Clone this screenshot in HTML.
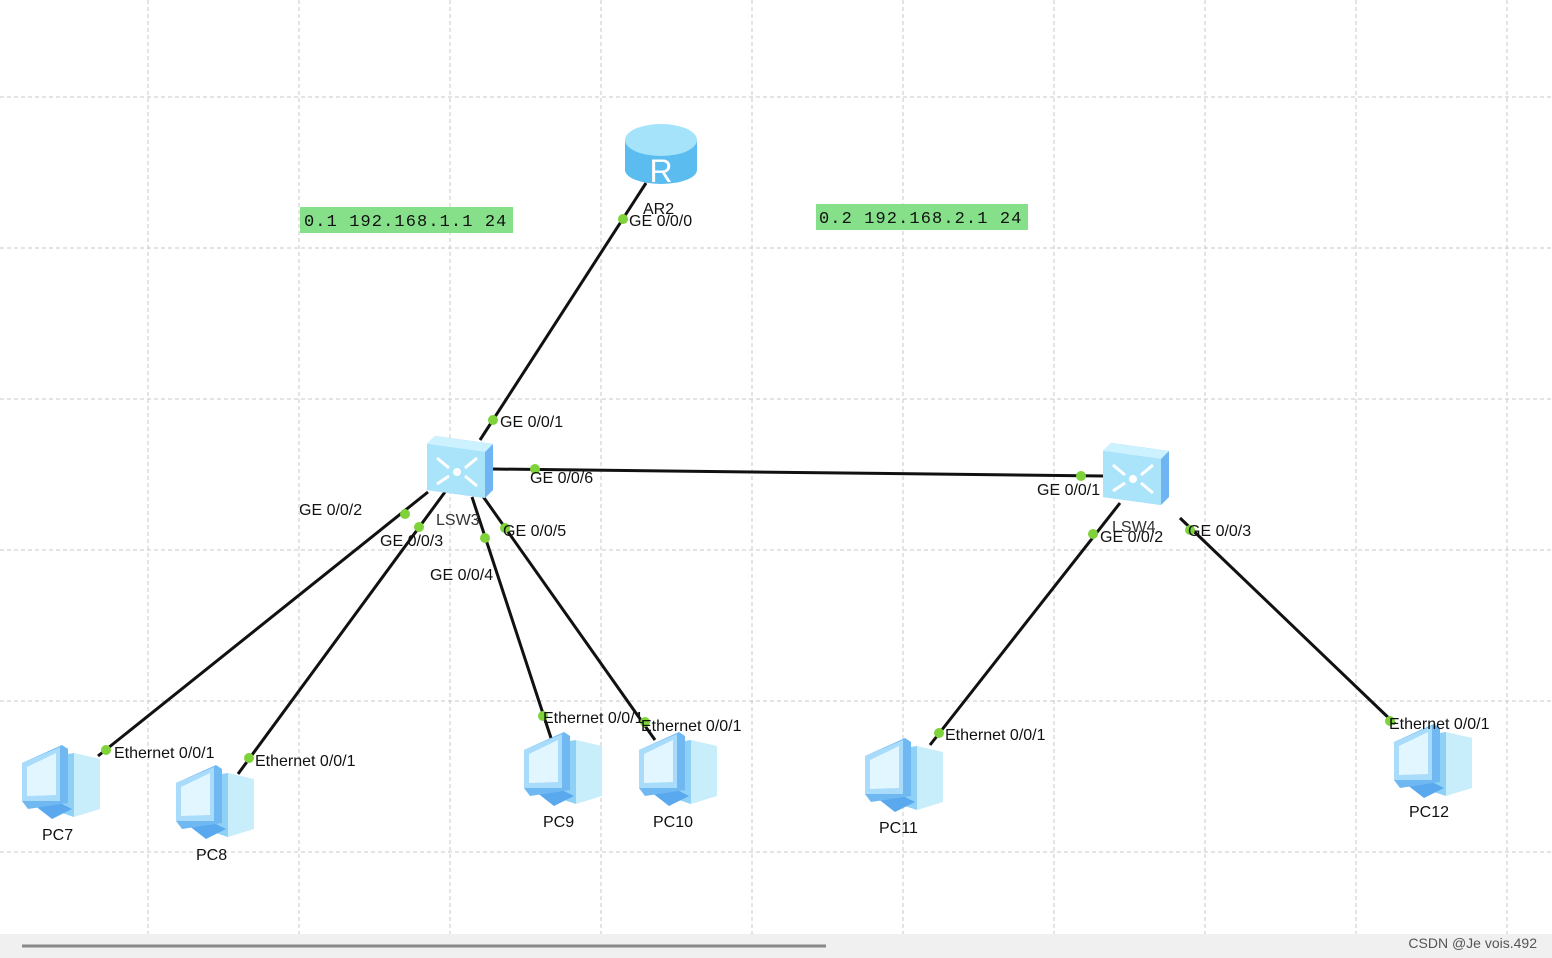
<!DOCTYPE html>
<html><head><meta charset="utf-8"><style>
body{margin:0;background:#fff;width:1552px;height:958px;overflow:hidden;font-family:"Liberation Sans",sans-serif}
svg{position:absolute;left:0;top:0}
</style></head><body>
<svg width="1552" height="958" viewBox="0 0 1552 958">
<defs>
<g id="pc">
<path d="M2,-28 L14,-30 L40,-24 L40,26 L14,34 L2,30 Z" fill="#c8eefc"/>
<path d="M2,-28 L14,-30 L14,34 L2,30Z" fill="#8fd0f7"/>
<path d="M-26,22 L-8,16 L12,26 L-8,36 Z" fill="#5aa8ee"/>
<path d="M-12,12 L-4,12 L-2,24 L-12,24Z" fill="#5aa8ee"/>
<path d="M-38,-20 L2,-38 L8,-34 L8,20 L-32,26 L-38,18 Z" fill="#6fb8f2"/>
<path d="M-38,-20 L0,-36 L0,18 L-38,18 Z" fill="#a9dcfa"/>
<path d="M-33,-16 L-4,-30 L-4,12 L-33,13 Z" fill="#e2f6ff"/>
</g>
<g id="sw">
<path d="M0,8 L8,0 L66,8 L66,54 L58,62 L0,54 Z" fill="#6fb4f3"/>
<path d="M0,8 L58,16 L58,62 L0,54 Z" fill="#a9e4fb"/>
<path d="M0,8 L8,0 L66,8 L58,16Z" fill="#cdf2ff"/>
<g stroke="#fff" stroke-width="3" fill="none">
<path d="M10,22 L22,32 M38,32 L50,22 M10,48 L22,40 M38,40 L50,50"/></g>
<circle cx="30" cy="36" r="4" fill="#fff"/>
</g>
</defs>
<g stroke="#c8c8c8" stroke-dasharray="4,3" stroke-width="1">
<line x1="148" y1="0" x2="148" y2="934"/><line x1="299" y1="0" x2="299" y2="934"/><line x1="450" y1="0" x2="450" y2="934"/><line x1="601" y1="0" x2="601" y2="934"/><line x1="752" y1="0" x2="752" y2="934"/><line x1="903" y1="0" x2="903" y2="934"/><line x1="1054" y1="0" x2="1054" y2="934"/><line x1="1205" y1="0" x2="1205" y2="934"/><line x1="1356" y1="0" x2="1356" y2="934"/><line x1="1507" y1="0" x2="1507" y2="934"/>
<line x1="0" y1="97" x2="1552" y2="97"/><line x1="0" y1="248" x2="1552" y2="248"/><line x1="0" y1="399" x2="1552" y2="399"/><line x1="0" y1="550" x2="1552" y2="550"/><line x1="0" y1="701" x2="1552" y2="701"/><line x1="0" y1="852" x2="1552" y2="852"/>
</g>
<rect x="0" y="934" width="1552" height="24" fill="#f0f0f0"/>
<line x1="22" y1="946" x2="826" y2="946" stroke="#888" stroke-width="3"/>
<rect x="300" y="207" width="213" height="26" fill="#86e08a"/>
<rect x="816" y="204" width="212" height="26" fill="#86e08a"/>
<g font-family="Liberation Mono,monospace" font-size="17" fill="#111" letter-spacing="1.1">
<text x="304" y="226">0.1 192.168.1.1 24</text>
<text x="819" y="223">0.2 192.168.2.1 24</text></g>
<g stroke="#111" stroke-width="3">
<line x1="646" y1="183" x2="480" y2="440"/>
<line x1="492" y1="469" x2="1103" y2="476"/>
<line x1="428" y1="492" x2="98" y2="756"/>
<line x1="445" y1="492" x2="238" y2="774"/>
<line x1="472" y1="497" x2="551" y2="738"/>
<line x1="482" y1="495" x2="655" y2="740"/>
<line x1="1120" y1="503" x2="930" y2="745"/>
<line x1="1180" y1="518" x2="1395" y2="724"/>
</g>
<g transform="translate(625,120)">
<path d="M0,20 L0,50 A36,14 0 0 0 72,50 L72,20 Z" fill="#5bbcf0"/>
<ellipse cx="36" cy="20" rx="36" ry="16" fill="#a5e3fb"/>
<text x="36" y="62" font-size="32" fill="#fff" text-anchor="middle">R</text>
</g>
<use href="#sw" x="427" y="436"/>
<use href="#sw" x="1103" y="443"/>
<use href="#pc" x="60" y="783"/>
<use href="#pc" x="214" y="803"/>
<use href="#pc" x="562" y="770"/>
<use href="#pc" x="677" y="770"/>
<use href="#pc" x="903" y="776"/>
<use href="#pc" x="1432" y="762"/>
<g fill="#7ed23a">
<circle cx="623" cy="219" r="5"/><circle cx="493" cy="420" r="5"/><circle cx="535" cy="469" r="5"/><circle cx="1081" cy="476" r="5"/>
<circle cx="405" cy="514" r="5"/><circle cx="106" cy="750" r="5"/><circle cx="419" cy="527" r="5"/><circle cx="249" cy="758" r="5"/>
<circle cx="485" cy="538" r="5"/><circle cx="543" cy="716" r="5"/><circle cx="505" cy="528" r="5"/><circle cx="645" cy="722" r="5"/>
<circle cx="1093" cy="534" r="5"/><circle cx="939" cy="733" r="5"/><circle cx="1190" cy="530" r="5"/><circle cx="1390" cy="721" r="5"/>
</g>
<g font-size="16" fill="#111">
<text x="643" y="214">AR2</text><text x="629" y="226">GE 0/0/0</text>
<text x="500" y="427">GE 0/0/1</text><text x="530" y="483">GE 0/0/6</text>
<text x="436" y="525" fill="#333">LSW3</text>
<text x="299" y="515">GE 0/0/2</text><text x="380" y="546">GE 0/0/3</text>
<text x="430" y="580">GE 0/0/4</text><text x="503" y="536">GE 0/0/5</text>
<text x="1037" y="495">GE 0/0/1</text><text x="1112" y="532" fill="#333">LSW4</text>
<text x="1100" y="542">GE 0/0/2</text><text x="1188" y="536">GE 0/0/3</text>
<text x="114" y="758">Ethernet 0/0/1</text><text x="255" y="766">Ethernet 0/0/1</text>
<text x="543" y="723">Ethernet 0/0/1</text><text x="641" y="731">Ethernet 0/0/1</text>
<text x="945" y="740">Ethernet 0/0/1</text><text x="1389" y="729">Ethernet 0/0/1</text>
<text x="42" y="840">PC7</text><text x="196" y="860">PC8</text><text x="543" y="827">PC9</text>
<text x="653" y="827">PC10</text><text x="879" y="833">PC11</text><text x="1409" y="817">PC12</text>
</g>
<text x="1537" y="948" font-size="14" fill="#555" text-anchor="end">CSDN @Je vois.492</text>
</svg>
</body></html>
